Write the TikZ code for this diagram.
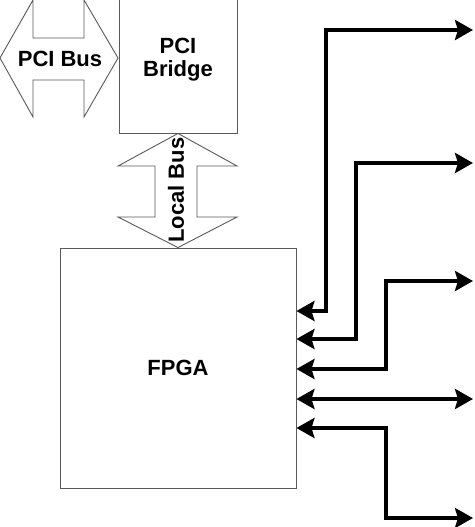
\documentclass[tikz,border=0pt]{standalone}
\usepackage{fontspec}
\setmainfont{Liberation Sans}
\usetikzlibrary{arrows.meta,positioning,calc}

\begin{document}
\begin{tikzpicture}[
  x=1pt,y=-1pt,
  box/.style={draw=black!65,line width=0.9pt,align=center,
    font=\fontsize{22}{23}\selectfont\bfseries},
  hollow/.style={draw=black!65,line width=0.9pt,line join=miter},
  lbl/.style={font=\fontsize{22}{23}\selectfont\bfseries,align=center},
  sig/.style={line width=4.5pt,
    {Stealth[length=18pt,width=20pt,inset=3pt]}-{Stealth[length=18pt,width=20pt,inset=3pt]}}
]
  \path[use as bounding box] (0,0) rectangle (474,527);
  \clip (0,0) rectangle (474,527);
  % blocks
  \node[box,minimum width=118,minimum height=146] (bridge) at (178,60) {PCI\\Bridge};
  \node[box,minimum width=236,minimum height=240] (fpga) at (178,368) {FPGA};
  % PCI bus (hollow double arrow)
  \draw[hollow] (0,58) -- (33,0) -- (33,38) -- (84,38) -- (84,0) -- (118,58)
    -- (84,117) -- (84,80) -- (33,80) -- (33,117) -- cycle;
  \node[lbl] (pcibus) at (60,59) {PCI Bus};
  % local bus (hollow double arrow)
  \draw[hollow] (bridge.south) -- (237,166) -- (197,166) -- (197,217) -- (237,217)
    -- (fpga.north) -- (118,217) -- (155,217) -- (155,166) -- (118,166) -- cycle;
  \node[lbl,rotate=90] (localbus) at (176,190) {Local Bus};
  % outputs and fpga ports
  \coordinate (o1) at (473,30);
  \coordinate (o2) at (473,163);
  \coordinate (o3) at (473,281);
  \coordinate (o4) at (473,399);
  \coordinate (o5) at (473,518);
  \coordinate (p1) at (fpga.east |- 0,311);
  \coordinate (p2) at (fpga.east |- 0,339);
  \coordinate (p3) at (fpga.east |- 0,369);
  \coordinate (p4) at (fpga.east |- 0,399);
  \coordinate (p5) at (fpga.east |- 0,428);
  \coordinate (c1) at (326,0);
  \coordinate (c2) at (356,0);
  \coordinate (c3) at (386,0);
  % signal lines
  \draw[sig] (p1) -| (c1 |- o1) -- (o1);
  \draw[sig] (p2) -| (c2 |- o2) -- (o2);
  \draw[sig] (p3) -| (c3 |- o3) -- (o3);
  \draw[sig] (p4) -- (o4);
  \draw[sig] (p5) -| (c3 |- o5) -- (o5);
\end{tikzpicture}
\end{document}
